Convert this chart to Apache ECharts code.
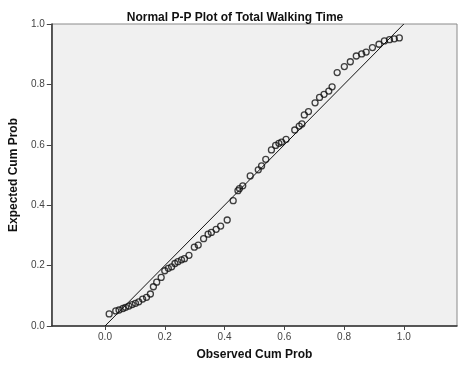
<!DOCTYPE html>
<html>
<head>
<meta charset="utf-8">
<script src="https://cdn.jsdelivr.net/npm/echarts@6/dist/echarts.min.js"></script>
<style>
html,body{margin:0;padding:0;background:#fff;}
#chart{width:474px;height:381px;}
</style>
</head>
<body>
<div id="chart"></div>
<script>
var titleText = 'Normal P-P Plot of Total Walking Time';
var xAxisName = 'Observed Cum Prob';
var yAxisName = 'Expected Cum Prob';
var tickValues = [0, 0.2, 0.4, 0.6, 0.8, 1.0];

var obsProb = [0.014,0.036,0.047,0.060,0.069,0.080,0.091,0.102,0.113,0.126,0.139,0.152,0.162,0.173,0.188,0.200,0.212,0.223,0.234,0.244,0.256,0.266,0.281,0.299,0.312,0.330,0.345,0.356,0.372,0.387,0.409,0.429,0.445,0.450,0.461,0.486,0.513,0.524,0.538,0.557,0.571,0.582,0.591,0.606,0.635,0.650,0.659,0.667,0.681,0.703,0.718,0.733,0.749,0.760,0.777,0.801,0.821,0.841,0.859,0.874,0.895,0.917,0.935,0.952,0.968,0.985];
var expProb = [0.040,0.050,0.053,0.058,0.062,0.066,0.071,0.075,0.080,0.089,0.095,0.106,0.130,0.145,0.161,0.183,0.191,0.196,0.207,0.213,0.219,0.223,0.234,0.261,0.268,0.289,0.304,0.310,0.320,0.331,0.351,0.415,0.448,0.455,0.464,0.497,0.517,0.530,0.552,0.583,0.598,0.605,0.609,0.618,0.649,0.662,0.669,0.699,0.710,0.739,0.757,0.767,0.778,0.792,0.839,0.859,0.875,0.894,0.901,0.907,0.922,0.933,0.944,0.948,0.951,0.954];

var refX = [0, 1];
var refY = [0, 1];

var pts = obsProb.map(function(x, i){ return [x, expProb[i]]; });
var refPts = refX.map(function(x, i){ return [x, refY[i]]; });

var chart = echarts.init(document.getElementById('chart'), null, {renderer:'canvas'});
var fmt = function(v){ return (Math.round(v*10)/10).toFixed(1); };
chart.setOption({
  animation: false,
  backgroundColor: '#ffffff',
  title: {
    text: titleText,
    left: 230, top: 7, textAlign: 'center',
    textStyle: {fontFamily: 'Liberation Sans, Arial', fontSize: 12, fontWeight: 'bold', color: '#111'}
  },
  grid: {
    left: 45, right: 17, top: 24, bottom: 55,
    show: true, backgroundColor: '#f0f0f0', borderColor: '#8a8a8a', borderWidth: 1
  },
  xAxis: {
    type: 'value', min: -0.178, max: 1.178,
    name: xAxisName, nameLocation: 'middle', nameGap: 23,
    nameTextStyle: {fontFamily: 'Liberation Sans, Arial', fontSize: 12, fontWeight: 'bold', color: '#111'},
    axisLine: {show: true, onZero: false, lineStyle: {color: '#333', width: 1.5}},
    axisTick: {show: true, length: 4, customValues: tickValues, lineStyle: {color: '#444'}},
    axisLabel: {customValues: tickValues, formatter: fmt, margin: 6, fontFamily: 'Liberation Sans, Arial', fontSize: 10, color: '#444'},
    splitLine: {show: false}
  },
  yAxis: {
    type: 'value', min: 0, max: 1, interval: 0.2,
    name: yAxisName, nameLocation: 'middle', nameGap: 24,
    nameTextStyle: {fontFamily: 'Liberation Sans, Arial', fontSize: 12, fontWeight: 'bold', color: '#111'},
    axisLine: {show: true, onZero: false, lineStyle: {color: '#333', width: 1.5}},
    axisTick: {show: true, length: 5, lineStyle: {color: '#444'}},
    axisLabel: {formatter: fmt, margin: 7, fontFamily: 'Liberation Sans, Arial', fontSize: 10, color: '#444'},
    splitLine: {show: false}
  },
  series: [
    {
      type: 'line', data: refPts, symbol: 'none', silent: true,
      lineStyle: {color: '#111', width: 1}
    },
    {
      type: 'scatter', data: pts, symbol: 'circle', symbolSize: 6,
      itemStyle: {color: 'rgba(0,0,0,0)', borderColor: '#111', borderWidth: 1.3}
    }
  ]
});
</script>
</body>
</html>
